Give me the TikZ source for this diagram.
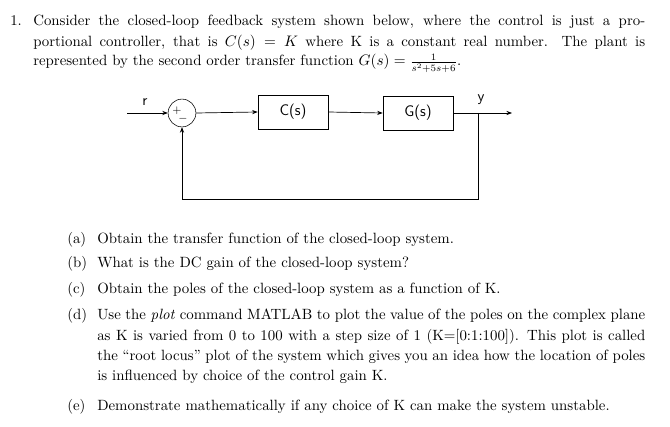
\documentclass[tikz,border=0pt]{standalone}
\usetikzlibrary{arrows.meta}
\newcommand{\jline}[2]{\makebox[#1][s]{#2}}
\begin{document}
\begin{tikzpicture}[x=0.72pt,y=-0.72pt,
  txt/.style={anchor=base west,inner sep=0pt,font=\fontsize{10.7}{13}\selectfont},
  blk/.style={draw,minimum width=50.4pt,minimum height=24.5pt,inner sep=0pt,font=\sffamily\fontsize{11}{13}\selectfont},
  sig/.style={-{Stealth[length=4pt,width=3pt]},line width=0.5pt},
  lab/.style={font=\sffamily\fontsize{11}{13}\selectfont,inner sep=0pt}]
\useasboundingbox (0,0) rectangle (670,427);
% text
\node[txt] (n1) at (10,26) {1.};
\node[txt] (l1) at (33,26) {\jline{440.6pt}{Consider the closed-loop feedback system shown below, where the control is just a pro-}};
\node[txt] (l2) at (33,47) {\jline{440.6pt}{portional controller, that is $C(s)=K$ where K is a constant real number. The plant is}};
\node[txt] (l3) at (33,66) {represented by the second order transfer function $G(s)=\frac{1}{s^2+5s+6}$.};
% diagram
\node[draw,circle,minimum size=20pt,inner sep=0pt] (sum) at (182,113) {};
\node[font=\footnotesize,inner sep=0pt] (plus) at (177,111) {$+$};
\node[font=\footnotesize,inner sep=0pt] (minus) at (183,119) {$-$};
\node[blk] (C) at (293,112) {C(s)};
\node[blk] (G) at (418,113) {G(s)};
\coordinate (rin) at (127,113);
\coordinate (br) at (478,113);
\coordinate (yout) at (512,113);
\coordinate (bot) at (478,199);
\coordinate (botl) at (182,199);
\node[lab] (r) at (145,102) {r};
\node[lab] (y) at (481,100) {y};
\draw[sig] (rin) -- (sum.west);
\draw[sig] (sum.east) -- (C.west);
\draw[sig] (C.east) -- (G.west);
\draw[sig] (G.east) -- (yout);
\draw[sig] (br) -- (bot) -- (botl) -- (sum.south);
% items
\node[txt] (a) at (67,244) {(a)};
\node[txt] (at) at (97,244) {Obtain the transfer function of the closed-loop system.};
\node[txt] (b) at (67,268) {(b)};
\node[txt] (bt) at (97,268) {What is the DC gain of the closed-loop system?};
\node[txt] (c) at (67,293) {(c)};
\node[txt] (ct) at (97,293) {Obtain the poles of the closed-loop system as a function of K.};
\node[txt] (d) at (67,319) {(d)};
\node[txt] (d1) at (97,319) {\jline{394.6pt}{Use the \textit{plot} command MATLAB to plot the value of the poles on the complex plane}};
\node[txt] (d2) at (97,340) {\jline{394.6pt}{as K is varied from 0 to 100 with a step size of 1 (K=[0:1:100]). This plot is called}};
\node[txt] (d3) at (97,360) {\jline{394.6pt}{the ``root locus'' plot of the system which gives you an idea how the location of poles}};
\node[txt] (d4) at (97,380) {is influenced by choice of the control gain K.};
\node[txt] (e) at (67,410) {(e)};
\node[txt] (et) at (97,410) {Demonstrate mathematically if any choice of K can make the system unstable.};
\end{tikzpicture}
\end{document}
